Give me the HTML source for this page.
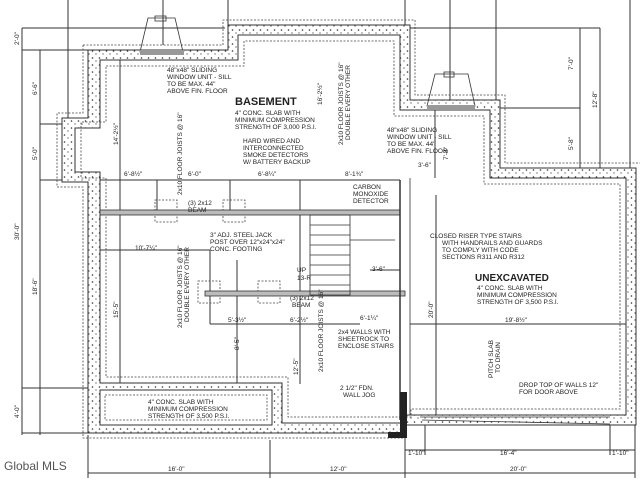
<!DOCTYPE html>
<html><head><style>
html,body{margin:0;padding:0;background:#fff}
svg{display:block}
text{font-family:"Liberation Sans",sans-serif;font-size:6.5px;fill:#222}
.t{font-size:6px}
.h{font-size:11px;font-weight:bold}
</style></head><body>
<svg width="640" height="480" viewBox="0 0 640 480" xmlns="http://www.w3.org/2000/svg">
<defs>
<pattern id="dots" width="7" height="7" patternUnits="userSpaceOnUse">
<rect width="7" height="7" fill="#fff"/>
<circle cx="1.5" cy="2" r="0.8" fill="#333"/><circle cx="5" cy="5" r="0.6" fill="#333"/>
</pattern>
</defs>
<g fill="none" stroke="#333" stroke-width="1">
<line x1="68" y1="0" x2="68" y2="180"/><line x1="163" y1="0" x2="163" y2="45"/>
<line x1="228" y1="0" x2="228" y2="25"/><line x1="405" y1="0" x2="405" y2="25"/>
<line x1="450" y1="0" x2="450" y2="105"/><line x1="496" y1="0" x2="496" y2="170"/>
<line x1="630" y1="0" x2="630" y2="170"/>
<line x1="22" y1="28" x2="225" y2="28"/><line x1="22" y1="50" x2="90" y2="50"/>
<line x1="22" y1="28" x2="22" y2="435"/><line x1="40" y1="50" x2="40" y2="435"/>
<line x1="40" y1="124" x2="62" y2="124"/><line x1="40" y1="180" x2="90" y2="180"/>
<line x1="22" y1="388" x2="88" y2="388"/><line x1="22" y1="433" x2="88" y2="433"/>
<line x1="410" y1="28" x2="600" y2="28"/><line x1="500" y1="108" x2="580" y2="108"/>
<line x1="580" y1="28" x2="580" y2="170"/><line x1="600" y1="28" x2="600" y2="170"/>
<line x1="88" y1="435" x2="88" y2="478"/><line x1="270" y1="440" x2="270" y2="478"/>
<line x1="405" y1="425" x2="405" y2="478"/><line x1="425" y1="425" x2="425" y2="455"/>
<line x1="610" y1="425" x2="610" y2="455"/><line x1="635" y1="425" x2="635" y2="478"/>
<line x1="88" y1="473" x2="635" y2="473"/><line x1="405" y1="450" x2="635" y2="450"/>
</g>
<!-- foundation walls -->
<path d="M88 50 H228 V25 H410 V100 H500 V168 H636 V425 H405 V433 H88 V182 H62 V118 H88 Z" fill="url(#dots)" stroke="#333" stroke-width="1"/>
<path d="M100 60 H238 V35 H400 V110 H490 V178 H626 V415 H405 V423 H282 V383 H100 V172 H75 V128 H100 Z" fill="#fff" stroke="#333" stroke-width="1"/>
<rect x="100" y="390" width="172" height="35" fill="#fff" stroke="#333" stroke-width="1"/>
<g fill="none" stroke="#444" stroke-width="0.8" stroke-dasharray="2,1.5">
<path d="M83 45 H223 V20 H415 V95 H505 V163 H640"/>
<path d="M83 45 V113 H57 V187 H83 V438 H405"/>
<path d="M106 66 H244 V41 H394 V116 H484 V184 H620 V409 H411 V417 H288 V377 H106 V178 H81 V122 H106 Z"/>
<rect x="105" y="395" width="162" height="25"/>
<rect x="155" y="200" width="22" height="22"/><rect x="223" y="200" width="22" height="22"/>
<rect x="198" y="281" width="22" height="22"/><rect x="258" y="281" width="22" height="22"/>
</g>
<g fill="none" stroke="#333" stroke-width="1">
<line x1="100" y1="180" x2="400" y2="180"/><line x1="100" y1="250" x2="210" y2="250"/>
<line x1="210" y1="324" x2="360" y2="324"/><line x1="410" y1="324" x2="626" y2="324"/>
<line x1="370" y1="270" x2="400" y2="270"/><line x1="340" y1="293" x2="400" y2="293"/>
<line x1="120" y1="60" x2="120" y2="383"/><line x1="300" y1="180" x2="300" y2="384"/>
<line x1="237" y1="260" x2="237" y2="383"/><line x1="210" y1="250" x2="210" y2="324"/>
<line x1="435" y1="110" x2="435" y2="178"/><line x1="436" y1="195" x2="436" y2="415"/>
<line x1="157" y1="180" x2="157" y2="210"/><line x1="230" y1="180" x2="230" y2="210"/>
</g>
<rect x="100" y="210" width="300" height="5" fill="#bbb" stroke="#333" stroke-width="0.8"/>
<rect x="205" y="291" width="200" height="5" fill="#bbb" stroke="#333" stroke-width="0.8"/>
<g stroke="#333" stroke-width="0.8" fill="none">
<rect x="310" y="215" width="40" height="80"/>
<line x1="310" y1="225" x2="350" y2="225"/><line x1="310" y1="235" x2="350" y2="235"/>
<line x1="310" y1="245" x2="350" y2="245"/><line x1="310" y1="255" x2="350" y2="255"/>
<line x1="310" y1="265" x2="350" y2="265"/><line x1="310" y1="275" x2="350" y2="275"/>
<line x1="310" y1="285" x2="350" y2="285"/>
<line x1="400" y1="180" x2="400" y2="420" stroke-width="1.5"/>
<line x1="410" y1="178" x2="410" y2="415"/>
<line x1="350" y1="240" x2="395" y2="240"/>
<path d="M140 52 L148 18 H175 L183 52 Z"/><rect x="155" y="16" width="11" height="5"/>
<path d="M427 106 L435 74 H468 L475 106 Z"/><rect x="444" y="72" width="10" height="5"/>
<line x1="422" y1="420" x2="610" y2="424"/><line x1="420" y1="417" x2="610" y2="417"/>
</g>
<rect x="140" y="50" width="44" height="5" fill="#999"/><rect x="427" y="105" width="48" height="4" fill="#999"/>
<rect x="400" y="392" width="7" height="46" fill="#222"/><rect x="388" y="432" width="19" height="6" fill="#222"/>
<text x="167" y="72">48"x48" SLIDING</text><text x="167" y="79">WINDOW UNIT - SILL</text>
<text x="167" y="86">TO BE MAX. 44"</text><text x="167" y="93">ABOVE FIN. FLOOR</text>
<text x="387" y="132">48"x48" SLIDING</text><text x="387" y="139">WINDOW UNIT - SILL</text>
<text x="387" y="146">TO BE MAX. 44"</text><text x="387" y="153">ABOVE FIN. FLOOR</text>
<text class="h" x="235" y="105">BASEMENT</text>
<text x="235" y="115">4" CONC. SLAB WITH</text><text x="235" y="122">MINIMUM COMPRESSION</text>
<text x="235" y="129">STRENGTH OF 3,000 P.S.I.</text>
<text x="243" y="143">HARD WIRED AND</text><text x="243" y="150">INTERCONNECTED</text>
<text x="243" y="157">SMOKE DETECTORS</text><text x="243" y="164">W/ BATTERY BACKUP</text>
<text x="124" y="176">6'-8½"</text><text x="188" y="176">6'-0"</text><text x="258" y="176">6'-8¼"</text>
<text x="345" y="176">8'-1¾"</text>
<text x="353" y="189">CARBON</text><text x="353" y="196">MONOXIDE</text><text x="353" y="203">DETECTOR</text>
<text x="188" y="205">(3) 2x12</text><text x="188" y="212">BEAM</text>
<text x="210" y="237">3" ADJ. STEEL JACK</text><text x="210" y="244">POST OVER 12"x24"x24"</text>
<text x="210" y="251">CONC. FOOTING</text><text x="135" y="250">10'-7¼"</text>
<text x="430" y="238">CLOSED RISER TYPE STAIRS</text><text x="442" y="245">WITH HANDRAILS AND GUARDS</text>
<text x="442" y="252">TO COMPLY WITH CODE</text><text x="442" y="259">SECTIONS R311 AND R312</text>
<text x="372" y="271">3'-6"</text><text x="297" y="272">UP</text><text x="297" y="280">13-R</text>
<text x="290" y="300">(3) 2x12</text><text x="292" y="307">BEAM</text>
<text x="228" y="322">5'-3½"</text><text x="290" y="322">6'-2½"</text><text x="360" y="320">6'-1¼"</text>
<text class="h" x="475" y="281" style="font-size:10px">UNEXCAVATED</text>
<text x="477" y="290">4" CONC. SLAB WITH</text><text x="477" y="297">MINIMUM COMPRESSION</text>
<text x="477" y="304">STRENGTH OF 3,500 P.S.I.</text><text x="505" y="322">19'-8½"</text>
<text x="338" y="334">2x4 WALLS WITH</text><text x="338" y="341">SHEETROCK TO</text><text x="338" y="348">ENCLOSE STAIRS</text>
<text x="340" y="390">2 1/2" FDN.</text><text x="343" y="397">WALL JOG</text>
<text x="519" y="387">DROP TOP OF WALLS 12"</text><text x="519" y="394">FOR DOOR ABOVE</text>
<text x="148" y="404">4" CONC. SLAB WITH</text><text x="148" y="411">MINIMUM COMPRESSION</text>
<text x="148" y="418">STRENGTH OF 3,500 P.S.I.</text>
<text x="168" y="471">16'-0"</text><text x="330" y="471">12'-0"</text><text x="510" y="471">20'-0"</text>
<text x="408" y="455">1'-10"</text><text x="500" y="455">16'-4"</text><text x="612" y="455">1'-10"</text>
<text x="418" y="167">3'-6"</text>
<g class="t">
<text transform="translate(19,45) rotate(-90)">2'-0"</text>
<text transform="translate(37,95) rotate(-90)">6'-6"</text>
<text transform="translate(37,160) rotate(-90)">5'-0"</text>
<text transform="translate(19,240) rotate(-90)">30'-0"</text>
<text transform="translate(37,295) rotate(-90)">18'-6"</text>
<text transform="translate(19,418) rotate(-90)">4'-0"</text>
<text transform="translate(118,145) rotate(-90)">14'-2½"</text>
<text transform="translate(118,318) rotate(-90)">15'-5"</text>
<text transform="translate(182,195) rotate(-90)">2x10 FLOOR JOISTS @ 16"</text>
<text transform="translate(182,328) rotate(-90)">2x10 FLOOR JOISTS @ 16"</text>
<text transform="translate(189,322) rotate(-90)">DOUBLE EVERY OTHER</text>
<text transform="translate(343,145) rotate(-90)">2x10 FLOOR JOISTS @ 16"</text>
<text transform="translate(350,140) rotate(-90)">DOUBLE EVERY OTHER</text>
<text transform="translate(322,105) rotate(-90)">16'-2½"</text>
<text transform="translate(448,160) rotate(-90)">7'-8"</text>
<text transform="translate(573,70) rotate(-90)">7'-0"</text>
<text transform="translate(597,108) rotate(-90)">12'-8"</text>
<text transform="translate(573,150) rotate(-90)">5'-8"</text>
<text transform="translate(239,350) rotate(-90)">8'-5"</text>
<text transform="translate(298,375) rotate(-90)">12'-5"</text>
<text transform="translate(433,318) rotate(-90)">20'-0"</text>
<text transform="translate(493,378) rotate(-90)">PITCH SLAB</text>
<text transform="translate(500,373) rotate(-90)">TO DRAIN</text>
<text transform="translate(323,372) rotate(-90)">2x10 FLOOR JOISTS @ 16"</text>
</g>
<text x="4" y="470" style="font-size:12px;fill:#555">Global MLS</text>
</svg>
</body></html>
